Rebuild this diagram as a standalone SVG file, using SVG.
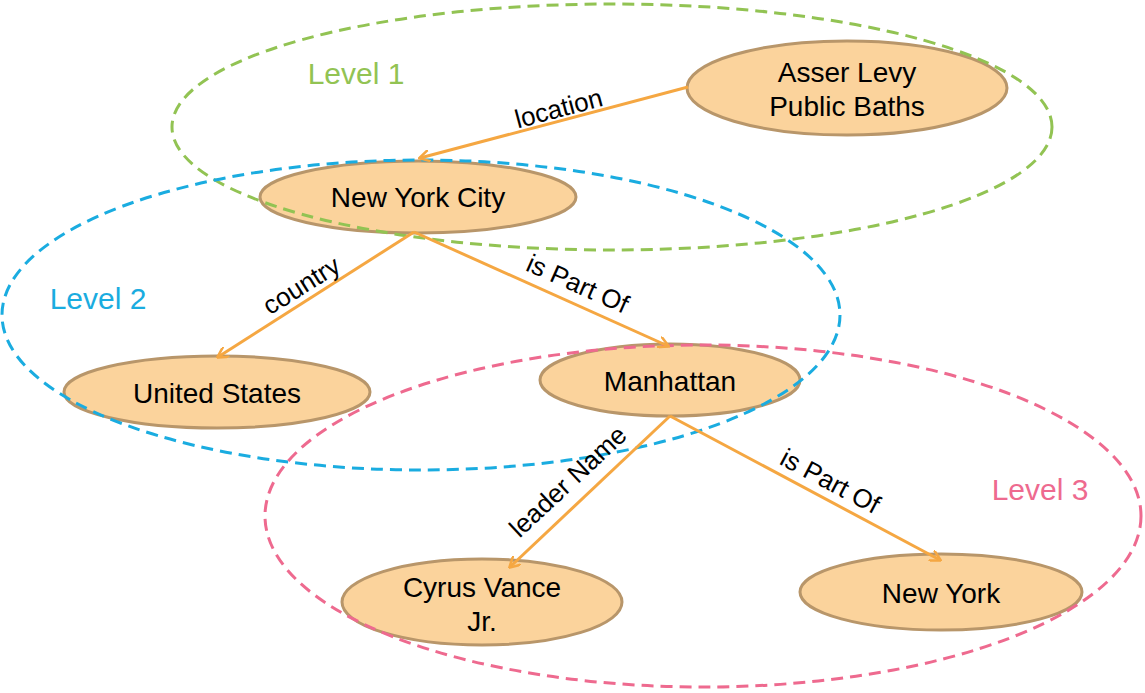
<svg xmlns="http://www.w3.org/2000/svg" width="1145" height="693" viewBox="0 0 1145 693">
<defs>
<style>
.lvl{fill:none;stroke-width:3;stroke-dasharray:12 7}
.node ellipse{fill:#fbd39c;stroke:#b8966a;stroke-width:3}
text{font-family:"Liberation Sans",Arial,sans-serif;font-size:28px;text-anchor:middle}
.lt{font-size:30px}
.edge{stroke:#f5a742;stroke-width:3;fill:none;marker-end:url(#ah)}
.lab{font-size:26px}
</style>
<marker id="ah" viewBox="0 0 12 12" refX="10" refY="6" markerWidth="12" markerHeight="12" markerUnits="userSpaceOnUse" orient="auto"><path d="M0,0 L11,6 L0,12" fill="none" stroke="#f5a742" stroke-width="2.5"/></marker>
</defs>
<rect width="1145" height="693" fill="#fff"/>
<g id="asser" class="node"><ellipse cx="847" cy="88" rx="160" ry="47"/><text x="847" y="82">Asser Levy</text><text x="847" y="116">Public Baths</text></g>
<g id="nyc" class="node"><ellipse cx="418" cy="197" rx="158" ry="36"/><text x="418" y="207">New York City</text></g>
<g id="us" class="node"><ellipse cx="217" cy="392" rx="153" ry="36"/><text x="217" y="403">United States</text></g>
<g id="manhattan" class="node"><ellipse cx="670" cy="380" rx="130" ry="36"/><text x="670" y="391">Manhattan</text></g>
<g id="cyrus" class="node"><ellipse cx="482" cy="602" rx="140" ry="43"/><text x="482" y="597">Cyrus Vance</text><text x="482" y="631">Jr.</text></g>
<g id="ny" class="node"><ellipse cx="941" cy="592" rx="141" ry="38"/><text x="941" y="603">New York</text></g>
<g id="levels">
<ellipse class="lvl" cx="612" cy="127" rx="440" ry="123" stroke="#92c353"/>
<ellipse class="lvl" cx="421" cy="315" rx="419" ry="155" stroke="#1aace0"/>
<ellipse class="lvl" cx="703" cy="516" rx="438" ry="171" stroke="#ee6a8f"/>
<text class="lt" x="356" y="84" fill="#92c353">Level 1</text>
<text class="lt" x="98" y="309" fill="#1aace0">Level 2</text>
<text class="lt" x="1040" y="500" fill="#ee6a8f">Level 3</text>
</g>
<g id="connectors">
<line class="edge" x1="688" y1="87" x2="420" y2="158"/>
<line class="edge" x1="414" y1="232" x2="218" y2="357"/>
<line class="edge" x1="414" y1="232" x2="668" y2="346"/>
<line class="edge" x1="670" y1="416" x2="510" y2="567"/>
<line class="edge" x1="670" y1="416" x2="940" y2="560"/>
<text class="lab" transform="translate(561,117) rotate(-15)">location</text>
<text class="lab" transform="translate(306,293) rotate(-32)">country</text>
<text class="lab" transform="translate(574,292) rotate(24)">is Part Of</text>
<text class="lab" transform="translate(574,488) rotate(-43)">leader Name</text>
<text class="lab" transform="translate(826,489) rotate(28)">is Part Of</text>
</g>
</svg>
